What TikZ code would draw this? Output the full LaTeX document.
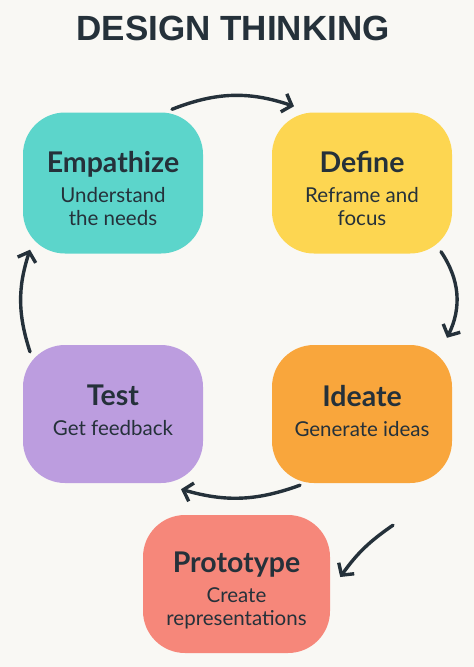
\documentclass[tikz,border=0pt]{standalone}
\usepackage{fontspec}
\setmainfont{Lato}
\newfontfamily\headfont{Liberation Sans}
\usetikzlibrary{arrows.meta}
\usepackage{xcolor}
\definecolor{paper}{HTML}{F9F8F4}
\definecolor{ink}{HTML}{25313A}
\definecolor{teal}{HTML}{5CD5CB}
\definecolor{sun}{HTML}{FDD651}
\definecolor{lilac}{HTML}{BC9DDF}
\definecolor{amber}{HTML}{F9A63C}
\definecolor{salmon}{HTML}{F6877A}
\newcommand{\phasename}[1]{{\fontsize{28.5}{32}\selectfont\bfseries #1}}

\begin{document}
\begin{tikzpicture}[x=1pt, y=-1pt,
        phase/.style={rectangle, rounded corners=42pt, minimum width=180pt, minimum height=141pt, align=center, inner sep=0pt, text=ink, font=\fontsize{20.5}{23}\selectfont},
        arrow/.style={-{Straight Barb[length=8.5pt,width=19pt]}, line width=3.4pt, line cap=round, draw=ink}
    ]
        \fill[paper] (0,0) rectangle (474,667);
        \useasboundingbox (0,0) rectangle (474,667);

        % Title
        \node[text=ink, font=\headfont\bfseries\fontsize{35}{40}\selectfont] (title) at (233,28) {DESIGN THINKING};

        % Phases
        \node[phase, fill=teal] (emp) at (113,183) {\rule{0pt}{33pt}\phasename{Empathize}\\[7pt]Understand\\the needs};
        \node[phase, fill=sun] (def) at (362,183) {\rule{0pt}{33pt}\phasename{Define}\\[7pt]Reframe and\\focus};
        \node[phase, fill=amber, minimum height=138pt] (ide) at (362,414) {\phasename{Ideate}\\[7pt]Generate ideas\rule[-7pt]{0pt}{7pt}};
        \node[phase, fill=lilac, minimum height=138pt] (tst) at (113,414) {\phasename{Test}\\[7pt]Get feedback\rule[-7pt]{0pt}{7pt}};
        \node[phase, fill=salmon, minimum width=187pt, minimum height=138pt] (pro) at (236.5,584) {\rule{0pt}{33pt}\phasename{Prototype}\\[7pt]Create\\representations};

        % Arrows
        \draw[arrow] ([xshift=59pt,yshift=3pt]emp.north) to[bend left=20] ([xshift=-68pt,yshift=6pt]def.north);
        \draw[arrow] ([xshift=79pt,yshift=2pt]def.south) to[bend left=30] ([xshift=85pt,yshift=7pt]ide.north);
        \draw[arrow] ([xshift=-62pt,yshift=-2pt]ide.south) to[bend left=18] ([xshift=68pt,yshift=-6pt]tst.south);
        \draw[arrow] ([xshift=31pt,yshift=-42pt]ide.south) to[bend right=10] ([xshift=10pt,yshift=7pt]pro.east);
        \draw[arrow] ([xshift=-83pt,yshift=-7pt]tst.north) to[bend left=18] ([xshift=-83pt,yshift=4pt]emp.south);
    \end{tikzpicture}
\end{document}
